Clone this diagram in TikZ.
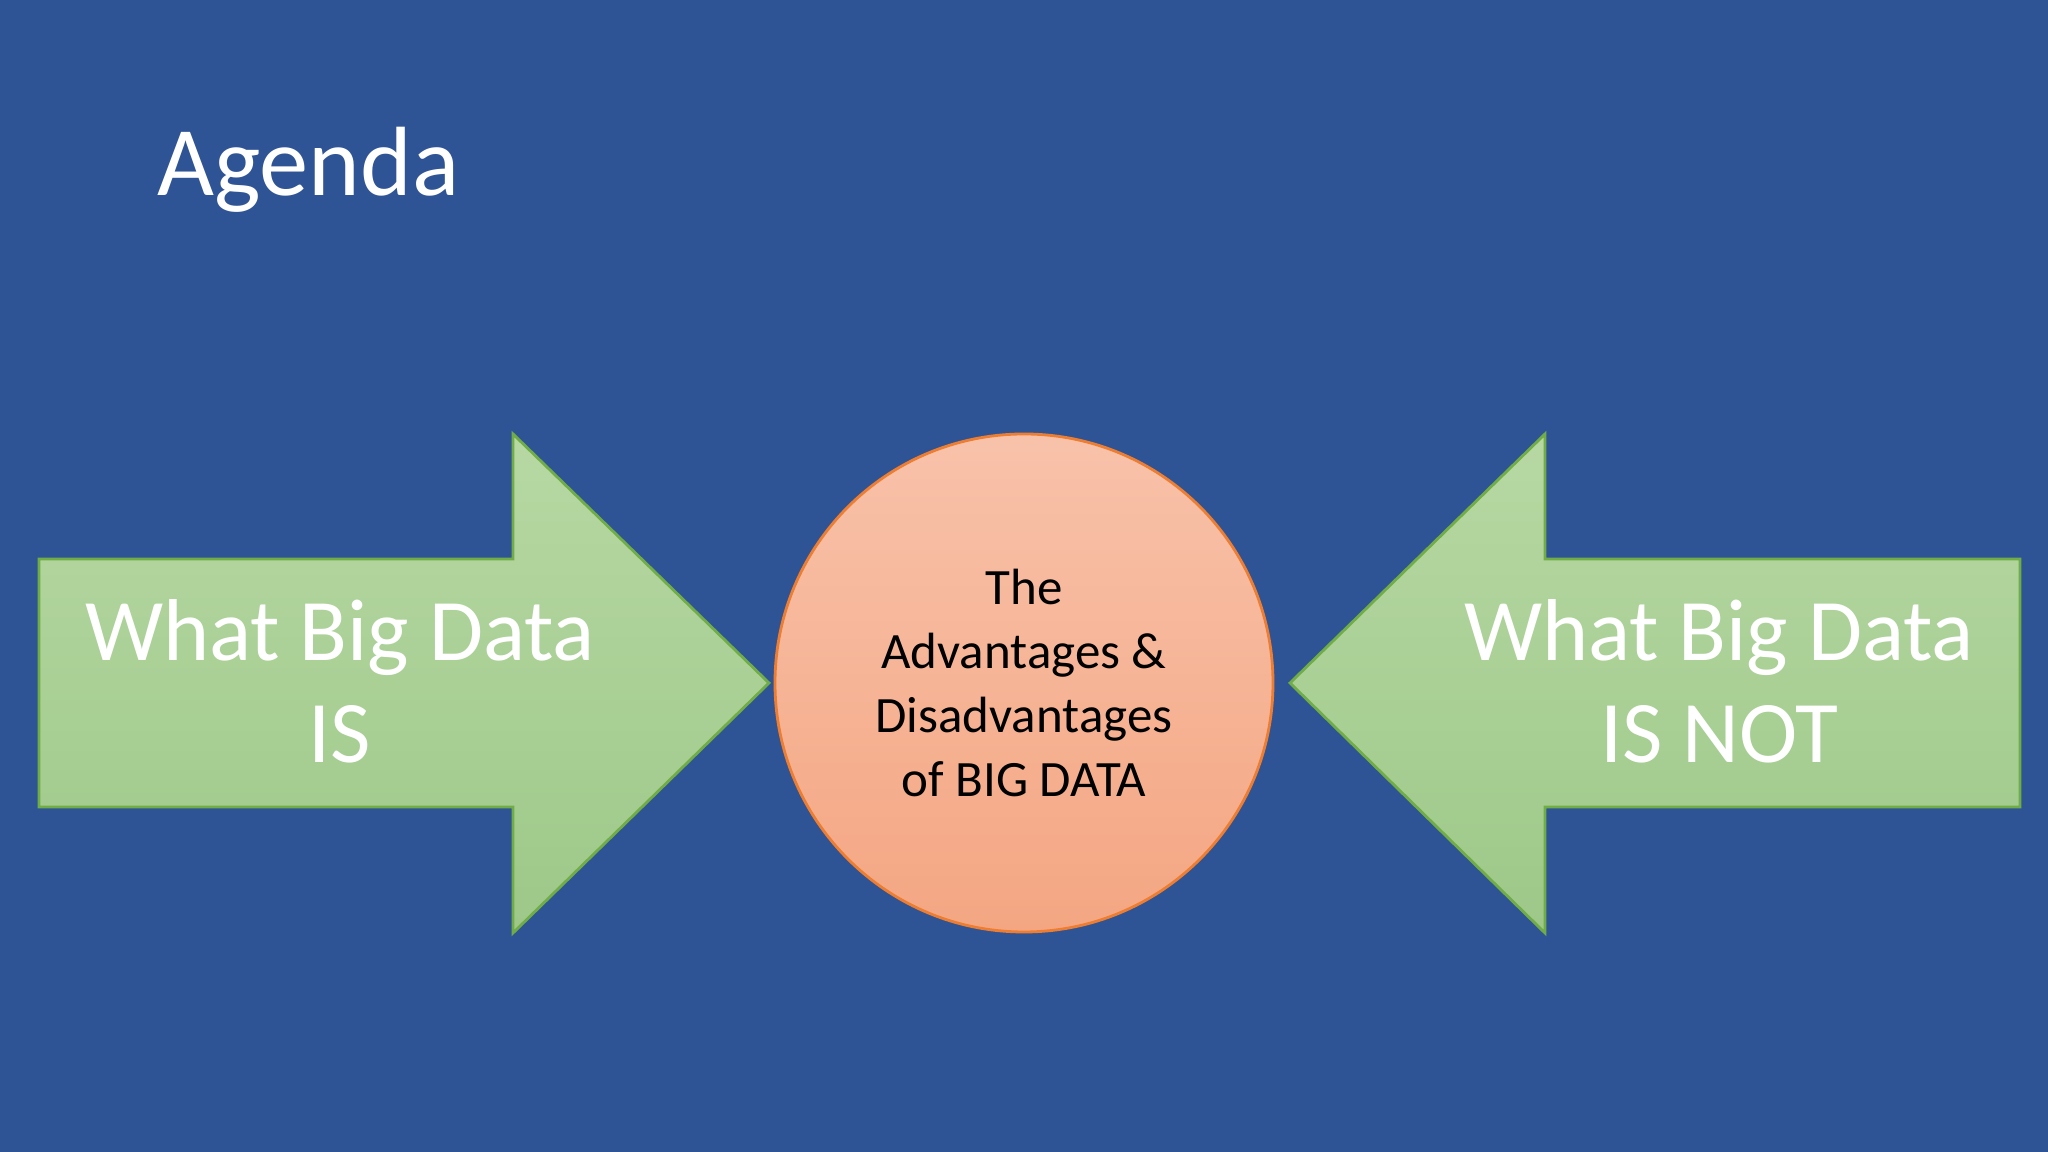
\documentclass[tikz,border=0pt]{standalone}
\usepackage{fontspec}
\setmainfont{Carlito}
\usetikzlibrary{positioning}
\definecolor{slidebg}{RGB}{47,84,150}
\definecolor{argtop}{RGB}{183,216,163}
\definecolor{argbot}{RGB}{157,200,137}
\definecolor{argline}{RGB}{112,173,71}
\definecolor{hubtop}{RGB}{248,194,170}
\definecolor{hubbot}{RGB}{244,166,130}
\definecolor{hubline}{RGB}{237,125,49}
\tikzset{
  bigarrow/.style={draw=argline, thick, top color=argtop, bottom color=argbot},
  arrowtext/.style={text=white, align=center, font=\fontsize{25}{29}\selectfont},
  hubtext/.style={text=black, align=center, font=\fontsize{14.5}{18.2}\selectfont}
}
\begin{document}
\begin{tikzpicture}
% Background
\fill[slidebg] (0,0) rectangle (20.48,11.52);
\useasboundingbox (0,0) rectangle (20.48,11.52);

% Title
\node[text=white, anchor=west, font=\fontsize{28}{32}\selectfont] (title) at (1.45,9.82) {Agenda};

% Left arrow
\draw[bigarrow] (0.39,5.93) -- (5.13,5.93) -- (5.13,7.18) -- (7.69,4.69)
  -- (5.13,2.19) -- (5.13,3.45) -- (0.39,3.45) -- cycle;
\node[arrowtext] (is) at (3.40,4.71) {What Big Data\\IS};

% Right arrow
\draw[bigarrow] (20.20,5.93) -- (15.45,5.93) -- (15.45,7.18) -- (12.90,4.69)
  -- (15.45,2.19) -- (15.45,3.45) -- (20.20,3.45) -- cycle;
\node[arrowtext] (isnot) at (17.19,4.71) {What Big Data\\IS NOT};

% Centre circle
\node[circle, draw=hubline, thick, top color=hubtop, bottom color=hubbot,
  minimum size=4.98cm, inner sep=0pt] (hub) at (10.24,4.69) {};
\node[hubtext] (hubtxt) at (hub.center) {The\\Advantages \&\\Disadvantages\\of BIG DATA};
\end{tikzpicture}
\end{document}
